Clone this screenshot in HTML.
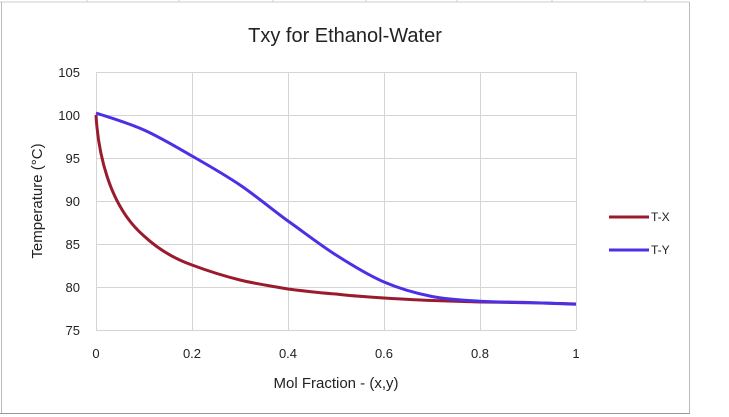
<!DOCTYPE html>
<html><head><meta charset="utf-8"><style>
body{margin:0;background:#fff;}
svg{display:block;font-family:"Liberation Sans",sans-serif;}
</style></head><body>
<svg width="729" height="417" viewBox="0 0 729 417">
<rect x="0" y="0" width="729" height="417" fill="#fff"/>
<line x1="0" y1="2" x2="690" y2="2" stroke="#ccc" stroke-width="1"/>
<g stroke="#ccc" stroke-width="1">
<line x1="87" y1="0" x2="87" y2="2"/><line x1="179" y1="0" x2="179" y2="2"/><line x1="273" y1="0" x2="273" y2="2"/><line x1="366" y1="0" x2="366" y2="2"/><line x1="457" y1="0" x2="457" y2="2"/><line x1="552" y1="0" x2="552" y2="2"/><line x1="645" y1="0" x2="645" y2="2"/>
</g>
<line x1="1.5" y1="2" x2="1.5" y2="413" stroke="#bbb"/>
<line x1="689.5" y1="2" x2="689.5" y2="413" stroke="#bbb"/>
<line x1="0" y1="413.5" x2="690" y2="413.5" stroke="#999"/>
<text x="345" y="42" text-anchor="middle" font-size="20" fill="#222">Txy for Ethanol-Water</text>
<g stroke="#d4d4d4" stroke-width="1">
<line x1="96" y1="72.5" x2="576" y2="72.5"/><line x1="96" y1="115.5" x2="576" y2="115.5"/><line x1="96" y1="158.5" x2="576" y2="158.5"/><line x1="96" y1="201.5" x2="576" y2="201.5"/><line x1="96" y1="244.5" x2="576" y2="244.5"/><line x1="96" y1="287.5" x2="576" y2="287.5"/><line x1="96" y1="330.5" x2="576" y2="330.5"/>
<line x1="96.5" y1="72" x2="96.5" y2="330"/><line x1="192.5" y1="72" x2="192.5" y2="330"/><line x1="288.5" y1="72" x2="288.5" y2="330"/><line x1="384.5" y1="72" x2="384.5" y2="330"/><line x1="480.5" y1="72" x2="480.5" y2="330"/><line x1="576.5" y1="72" x2="576.5" y2="330"/>
</g>
<g font-size="13" fill="#222" text-anchor="end">
<text x="80" y="77">105</text><text x="80" y="120">100</text><text x="80" y="163">95</text><text x="80" y="206">90</text><text x="80" y="249">85</text><text x="80" y="292">80</text><text x="80" y="335">75</text>
</g>
<g font-size="13" fill="#222" text-anchor="middle">
<text x="96" y="358">0</text><text x="192" y="358">0.2</text><text x="288" y="358">0.4</text><text x="384" y="358">0.6</text><text x="480" y="358">0.8</text><text x="576" y="358">1</text>
</g>
<text x="336" y="388" text-anchor="middle" font-size="15" fill="#222">Mol Fraction - (x,y)</text>
<text transform="translate(42,201) rotate(-90)" text-anchor="middle" font-size="15" fill="#222">Temperature (°C)</text>
<path d="M96,115 C98,150 108,205 144,236 C158,249 175,259 192,265 C208,271 224,276 240,280 C256,284 272,286 288,289 C304,291 320,293 336,294 C352,296 368,297 384,298 C400,299 416,300 432,300.5 C448,301 464,301.5 480,302 C496,302 512,302.5 528,302.8 C544,303 560,303.5 576,304" fill="none" stroke="#9a1b2e" stroke-width="3"/>
<path d="M96,113 C104,115.8 128,122.8 144,130 C160,137.2 176,146.8 192,156 C208,165.2 224,174.2 240,185 C256,195.8 272,209.3 288,221 C304,232.3 320,244.8 336,255 C352,265.2 368,275.1 384,282 C400,288.9 416,293.3 432,296.5 C448,299.7 464,300.2 480,301.2 C496,302.2 512,302 528,302.5 C544,303 560,303.6 576,304.2" fill="none" stroke="#4b30e6" stroke-width="3"/>
<line x1="609" y1="217" x2="649" y2="217" stroke="#9a1b2e" stroke-width="3"/>
<line x1="609" y1="250" x2="649" y2="250" stroke="#4b30e6" stroke-width="3"/>
<text x="651" y="221" font-size="12" fill="#222">T-X</text>
<text x="651" y="254" font-size="12" fill="#222">T-Y</text>
</svg>
</body></html>
